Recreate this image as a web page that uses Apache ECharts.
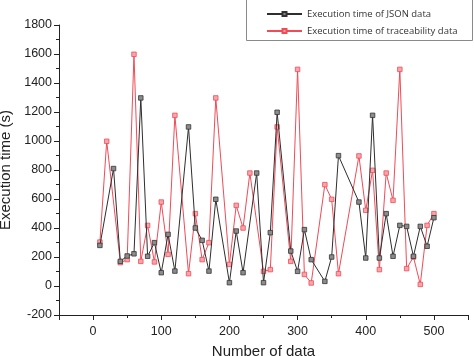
<!DOCTYPE html>
<html><head><meta charset="utf-8">
<script src="https://cdn.jsdelivr.net/npm/echarts@6/dist/echarts.min.js"></script>
<style>html,body{margin:0;padding:0;background:#fff}#c{width:474px;height:356px}</style>
</head><body><div id="c"></div>
<script>
const jsonX = [10,30,40,50,60,70,80,90,100,110,120,140,150,160,170,180,200,210,220,240,250,260,270,290,300,310,320,340,350,360,390,400,410,420,430,440,450,460,470,480,490,500];
const jsonY = [280,810,170,207,222,1297,205,299,92,356,103,1097,400,315,103,598,23,379,92,779,23,368,1198,241,101,389,182,32,200,899,579,193,1177,193,499,205,418,411,205,411,274,471];
const traceX = [10,20,40,50,60,70,80,90,100,110,120,140,150,160,170,180,200,210,220,230,250,260,270,290,300,310,320,340,350,360,390,400,410,420,430,440,450,460,470,480,490,500];
const traceY = [303,998,161,182,1598,170,418,166,579,218,1177,85,499,182,299,1297,149,556,400,779,101,113,1097,170,1494,80,21,699,598,85,897,522,798,113,779,591,1494,120,200,11,418,499];
const xTickLabels = [0,100,200,300,400,500];
const yTickLabels = [-200,0,200,400,600,800,1000,1200,1400,1600,1800];
const seriesNames = ['Execution time of JSON data','Execution time of traceability data'];

const pair = (xs, ys) => xs.map((x, i) => [x, ys[i]]);
const chart = echarts.init(document.getElementById('c'), null, {renderer: 'canvas'});
const tickFont = {fontFamily: 'Liberation Sans', fontSize: 12.5, color: '#222'};
chart.setOption({
  animation: false,
  backgroundColor: '#fff',
  grid: {left: 59, right: 6, top: 25, bottom: 41, containLabel: false, outerBoundsMode: 'none'},
  graphic: [{type: 'rect', shape: {x: 246.5, y: -1, width: 226, height: 41.5}, style: {fill: '#fff', stroke: '#8a8a8a', lineWidth: 1}, z: 10}],
  legend: {
    left: 261, top: 4, orient: 'vertical', itemWidth: 35, itemHeight: 5, itemGap: 7,
    textStyle: {fontFamily: 'Open Sans', fontSize: 9.5, color: '#333'},
    data: seriesNames, z: 20
  },
  xAxis: [{
    type: 'value', min: -50, max: 550, interval: 50,
    name: 'Number of data', nameLocation: 'middle', nameGap: 29,
    nameTextStyle: {fontFamily: 'Liberation Sans', fontSize: 15, color: '#222'},
    axisLine: {show: true, onZero: false, lineStyle: {color: '#222', width: 1}},
    axisTick: {show: true, inside: false, length: 3, lineStyle: {color: '#222'}},
    axisLabel: Object.assign({margin: 10, formatter: v => xTickLabels.indexOf(v) >= 0 ? String(v) : ''}, tickFont),
    splitLine: {show: false}
  }, {
    type: 'value', min: -50, max: 550, splitNumber: 6, position: 'bottom',
    axisLine: {show: false, onZero: false}, axisLabel: {show: false}, splitLine: {show: false},
    axisTick: {show: true, inside: false, length: 5, lineStyle: {color: '#222'}}
  }],
  yAxis: {
    type: 'value', min: -200, max: 1800, interval: 200,
    name: 'Execution time (s)', nameLocation: 'middle', nameGap: 45,
    nameTextStyle: {fontFamily: 'Liberation Sans', fontSize: 15, color: '#222'},
    axisLine: {show: true, onZero: false, lineStyle: {color: '#222', width: 1}},
    axisTick: {show: true, inside: false, length: 5, lineStyle: {color: '#222'}},
    minorTick: {show: true, splitNumber: 2, length: 3, lineStyle: {color: '#222'}},
    axisLabel: Object.assign({margin: 7, formatter: v => yTickLabels.indexOf(v) >= 0 ? String(v) : ''}, tickFont),
    splitLine: {show: false}
  },
  series: [{
    name: seriesNames[0], type: 'line', xAxisIndex: 0, data: pair(jsonX, jsonY),
    symbol: 'rect', symbolSize: 4.5, showAllSymbol: true,
    lineStyle: {color: '#2e2e2e', width: 1},
    itemStyle: {color: '#8c8c8c', borderColor: '#333', borderWidth: 0.8}, z: 3
  }, {
    name: seriesNames[1], type: 'line', xAxisIndex: 0, data: pair(traceX, traceY),
    symbol: 'rect', symbolSize: 4.5, showAllSymbol: true,
    lineStyle: {color: '#f04b57', width: 1},
    itemStyle: {color: '#f7a5ab', borderColor: '#f04b57', borderWidth: 0.8}, z: 2
  }]
});
</script></body></html>
